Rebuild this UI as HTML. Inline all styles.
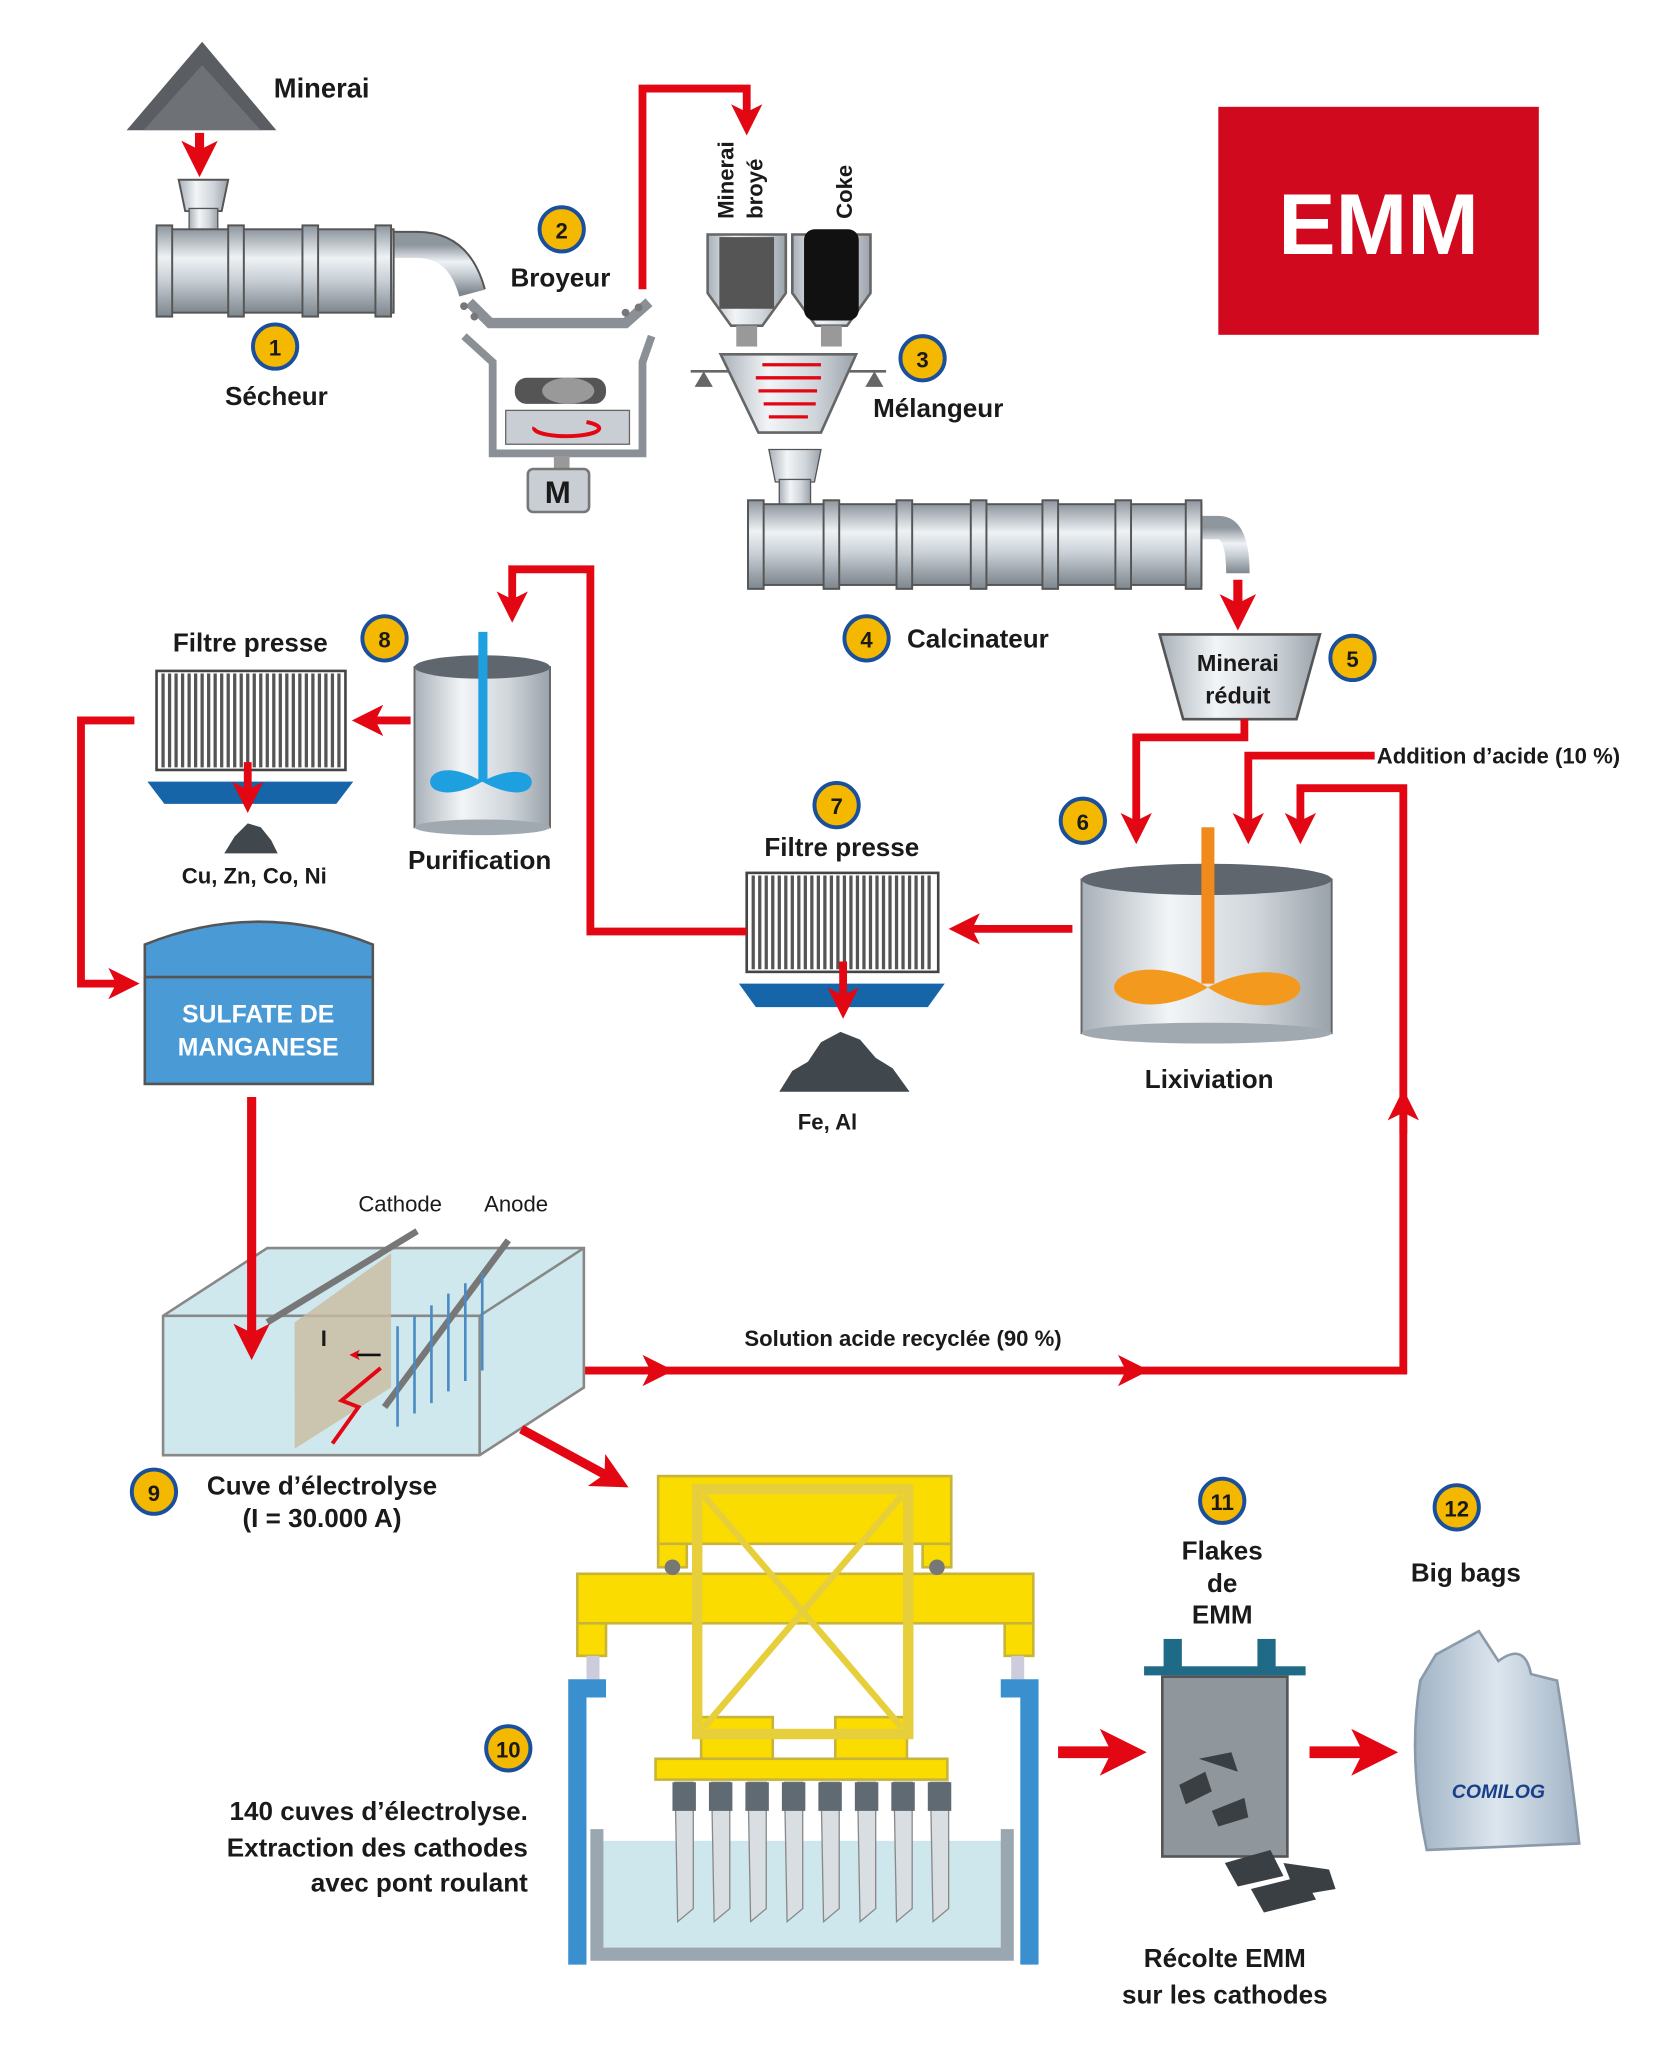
<!DOCTYPE html>
<html><head><meta charset="utf-8"><style>
html,body{margin:0;padding:0;background:#fff;}
svg{display:block;}
text{font-family:"Liberation Sans",sans-serif;font-weight:bold;fill:#1a1a1a;}
.n{font-size:17px;text-anchor:middle;}
.c{font-weight:normal;}
</style></head><body>
<svg width="1668" height="2048" viewBox="0 0 1280 1572" xmlns="http://www.w3.org/2000/svg">
<defs>
<linearGradient id="cyl" x1="0" y1="0" x2="0" y2="1">
<stop offset="0" stop-color="#8e969e"/><stop offset="0.35" stop-color="#eef2f5"/><stop offset="0.6" stop-color="#c9d0d6"/><stop offset="1" stop-color="#7e868e"/></linearGradient>
<linearGradient id="tank" x1="0" y1="0" x2="1" y2="0">
<stop offset="0" stop-color="#a8b0b8"/><stop offset="0.35" stop-color="#f2f5f7"/><stop offset="0.7" stop-color="#cfd5da"/><stop offset="1" stop-color="#9aa2aa"/></linearGradient>
<linearGradient id="bag" x1="0" y1="0" x2="1" y2="0">
<stop offset="0" stop-color="#9fb2c4"/><stop offset="0.5" stop-color="#dde6ee"/><stop offset="1" stop-color="#9fb2c4"/></linearGradient>
<marker id="ah" markerWidth="4" markerHeight="4" refX="2" refY="2" orient="auto" markerUnits="strokeWidth"><path d="M0,0 L4,2 L0,4 L1,2 z" fill="#e30613"/></marker>
</defs>

<!-- EMM -->
<rect x="935" y="82" width="246" height="175" fill="#d0091f"/>
<text x="1058" y="195" font-size="66" text-anchor="middle" style="fill:#fff">EMM</text>

<!-- Minerai -->
<polygon points="97,100 155,32 212,100" fill="#5a5e62"/>
<polygon points="110,100 155,50 200,100" fill="#7b8085" opacity=".6"/>
<text x="210" y="75" font-size="21">Minerai</text>
<path d="M153,102 V122" stroke="#e30613" stroke-width="7" fill="none" marker-end="url(#ah)"/>

<!-- Secheur -->
<polygon points="137,138 175,138 170,162 142,162" fill="url(#tank)" stroke="#555" stroke-width="1.5"/>
<rect x="145" y="160" width="22" height="18" fill="url(#tank)" stroke="#555"/>
<path d="M298,188 H320 Q352,188 362,225" stroke="url(#cyl)" stroke-width="20" fill="none"/>
<path d="M298,178 H320 Q360,178 372,222" stroke="#555" stroke-width="1.5" fill="none"/>
<rect x="120" y="176" width="182" height="64" fill="url(#cyl)" stroke="#555" stroke-width="1.5"/>
<g fill="url(#cyl)" stroke="#555" stroke-width="1.5">
<rect x="120" y="173" width="12" height="70"/><rect x="175" y="173" width="12" height="70"/><rect x="232" y="173" width="12" height="70"/><rect x="288" y="173" width="12" height="70"/></g>
<circle cx="211" cy="266" r="17" fill="#f5b800" stroke="#1a4f9c" stroke-width="3"/><text x="211" y="273" class="n">1</text>
<text x="212" y="311" font-size="20" text-anchor="middle">Sécheur</text>

<!-- Broyeur -->
<circle cx="431" cy="176" r="17" fill="#f5b800" stroke="#1a4f9c" stroke-width="3"/><text x="431" y="183" class="n">2</text>
<text x="430" y="220" font-size="20" text-anchor="middle">Broyeur</text>
<path d="M360,232 L376,248 H480 L498,232" stroke="#8a9096" stroke-width="8" fill="none"/>
<path d="M356,258 L378,278 V348 H493 V278 L500,258" stroke="#8a9096" stroke-width="6" fill="none"/>
<rect x="388" y="315" width="95" height="26" fill="#c8ced4" stroke="#666"/>
<rect x="395" y="290" width="70" height="20" rx="9" fill="#555"/>
<ellipse cx="436" cy="300" rx="20" ry="10" fill="#999"/>
<path d="M410,328 a25,6 0 1 0 40,-4" stroke="#e30613" stroke-width="3" fill="none"/>
<rect x="425" y="350" width="12" height="12" fill="#999"/>
<rect x="405" y="360" width="47" height="33" rx="4" fill="#c8ced4" stroke="#777" stroke-width="2"/>
<text x="428" y="386" font-size="24" text-anchor="middle">M</text>
<g fill="#777"><circle cx="356" cy="235" r="3"/><circle cx="364" cy="243" r="3"/><circle cx="480" cy="240" r="3"/><circle cx="490" cy="236" r="3"/></g>
<path d="M493,222 V68 H573 V92" stroke="#e30613" stroke-width="6" fill="none" marker-end="url(#ah)"/>

<!-- hoppers -->
<polygon points="543,180 603,180 603,225 585,250 561,250 543,225" fill="url(#tank)" stroke="#666" stroke-width="2"/>
<rect x="552" y="182" width="42" height="55" fill="#555"/>
<polygon points="608,180 668,180 668,225 650,250 626,250 608,225" fill="url(#tank)" stroke="#666" stroke-width="2"/>
<rect x="617" y="176" width="42" height="70" rx="8" fill="#111"/>
<text transform="translate(563,168) rotate(-90)" font-size="17">Minerai</text>
<text transform="translate(585,168) rotate(-90)" font-size="17">broyé</text>
<text transform="translate(654,168) rotate(-90)" font-size="17">Coke</text>
<rect x="565" y="250" width="16" height="16" fill="#999"/><rect x="630" y="250" width="16" height="16" fill="#999"/>
<!-- mixer -->
<line x1="530" y1="285" x2="680" y2="285" stroke="#666" stroke-width="2"/>
<polygon points="533,297 540,285 547,297" fill="#666"/><polygon points="664,297 671,285 678,297" fill="#666"/>
<polygon points="553,272 657,272 630,332 582,332" fill="url(#tank)" stroke="#666" stroke-width="2"/>
<path d="M585,280 h45 M580,290 h50 M582,300 h45 M586,310 h40 M590,320 h30" stroke="#e30613" stroke-width="2.5" fill="none"/>
<circle cx="708" cy="275" r="17" fill="#f5b800" stroke="#1a4f9c" stroke-width="3"/><text x="708" y="282" class="n">3</text>
<text x="720" y="320" font-size="20" text-anchor="middle">Mélangeur</text>

<!-- Calcinateur -->
<polygon points="590,345 630,345 625,370 595,370" fill="url(#tank)" stroke="#555"/>
<rect x="598" y="368" width="24" height="20" fill="url(#tank)" stroke="#555"/>
<path d="M920,405 H935 Q950,405 950,440" stroke="url(#cyl)" stroke-width="18" fill="none"/>
<rect x="574" y="387" width="348" height="62" fill="url(#cyl)" stroke="#555" stroke-width="1.5"/>
<g fill="url(#cyl)" stroke="#555" stroke-width="1.5">
<rect x="574" y="384" width="12" height="68"/><rect x="632" y="384" width="12" height="68"/><rect x="688" y="384" width="12" height="68"/><rect x="745" y="384" width="12" height="68"/><rect x="800" y="384" width="12" height="68"/><rect x="856" y="384" width="12" height="68"/><rect x="910" y="384" width="12" height="68"/></g>
<circle cx="665" cy="490" r="17" fill="#f5b800" stroke="#1a4f9c" stroke-width="3"/><text x="665" y="497" class="n">4</text>
<text x="696" y="497" font-size="20">Calcinateur</text>
<path d="M950,445 V470" stroke="#e30613" stroke-width="7" fill="none" marker-end="url(#ah)"/>

<!-- Minerai reduit -->
<polygon points="890,487 1013,487 995,552 908,552" fill="url(#tank)" stroke="#555" stroke-width="2"/>
<text x="950" y="515" font-size="18" text-anchor="middle">Minerai</text>
<text x="950" y="540" font-size="18" text-anchor="middle">réduit</text>
<circle cx="1038" cy="505" r="17" fill="#f5b800" stroke="#1a4f9c" stroke-width="3"/><text x="1038" y="512" class="n">5</text>

<!-- lines to lixiviation -->
<path d="M955,552 V566 H872 V636" stroke="#e30613" stroke-width="6" fill="none" marker-end="url(#ah)"/>
<path d="M1055,580 H958 V636" stroke="#e30613" stroke-width="6" fill="none" marker-end="url(#ah)"/>
<path d="M427,1052 H1077 V605 H998 V636" stroke="#e30613" stroke-width="6" fill="none" marker-end="url(#ah)"/>
<path d="M1077,870 V848" stroke="#e30613" stroke-width="6" fill="none" marker-end="url(#ah)"/>
<path d="M495,1052 H505" stroke="#e30613" stroke-width="6" fill="none" marker-end="url(#ah)"/>
<path d="M860,1052 H870" stroke="#e30613" stroke-width="6" fill="none" marker-end="url(#ah)"/>
<text x="1150" y="586" font-size="17" text-anchor="middle">Addition d’acide (10 %)</text>
<text x="693" y="1033" font-size="17" text-anchor="middle">Solution acide recyclée (90 %)</text>
<circle cx="831" cy="630" r="17" fill="#f5b800" stroke="#1a4f9c" stroke-width="3"/><text x="831" y="637" class="n">6</text>

<!-- Lixiviation -->
<rect x="830" y="675" width="192" height="118" fill="url(#tank)" stroke="#666" stroke-width="1.5"/>
<ellipse cx="926" cy="793" rx="96" ry="8" fill="#a0a8b0"/>
<ellipse cx="926" cy="675" rx="96" ry="12" fill="#5f666d"/>
<rect x="922" y="635" width="10" height="120" fill="#f08a1c"/>
<path d="M927,758 C890,735 855,745 855,758 C855,770 890,780 927,758 C960,740 998,745 998,758 C998,772 960,780 927,758z" fill="#f39a1e"/>
<text x="928" y="835" font-size="20" text-anchor="middle">Lixiviation</text>
<path d="M823,713 H740" stroke="#e30613" stroke-width="6" fill="none" marker-end="url(#ah)"/>

<!-- Filtre 7 -->
<circle cx="642" cy="618" r="17" fill="#f5b800" stroke="#1a4f9c" stroke-width="3"/><text x="642" y="625" class="n">7</text>
<text x="646" y="657" font-size="20" text-anchor="middle">Filtre presse</text>
<rect x="573" y="670" width="147" height="76" fill="#fff" stroke="#444" stroke-width="2"/>
<path d="M578,672 V744 M583,672 V744 M588,672 V744 M593,672 V744 M598,672 V744 M603,672 V744 M608,672 V744 M613,672 V744 M618,672 V744 M623,672 V744 M628,672 V744 M633,672 V744 M638,672 V744 M643,672 V744 M648,672 V744 M653,672 V744 M658,672 V744 M663,672 V744 M668,672 V744 M673,672 V744 M678,672 V744 M683,672 V744 M688,672 V744 M693,672 V744 M698,672 V744 M703,672 V744 M708,672 V744 M713,672 V744" stroke="#555" stroke-width="2.5"/>
<polygon points="567,755 725,755 712,773 580,773" fill="#1565a8"/>
<path d="M647,738 V770" stroke="#e30613" stroke-width="6" fill="none" marker-end="url(#ah)"/>
<path d="M598,838 L608,822 L620,815 L630,800 L645,792 L660,798 L672,812 L685,820 L698,838z" fill="#40474d"/>
<text x="635" y="867" font-size="17" text-anchor="middle">Fe, Al</text>
<path d="M573,715 H453 V437 H393 V466" stroke="#e30613" stroke-width="6" fill="none" marker-end="url(#ah)"/>

<!-- Purification -->
<rect x="318" y="512" width="104" height="123" fill="url(#tank)" stroke="#666" stroke-width="1.5"/>
<ellipse cx="370" cy="635" rx="52" ry="6" fill="#a0a8b0"/>
<ellipse cx="370" cy="512" rx="52" ry="9" fill="#5f666d"/>
<rect x="367" y="485" width="7" height="115" fill="#1e9fe0"/>
<path d="M370,600 C345,585 330,592 330,600 C330,610 350,612 370,600 C392,588 408,592 408,600 C408,610 392,612 370,600z" fill="#1e9fe0"/>
<text x="368" y="667" font-size="20" text-anchor="middle">Purification</text>
<path d="M315,553 H282" stroke="#e30613" stroke-width="6" fill="none" marker-end="url(#ah)"/>

<!-- Filtre 8 -->
<circle cx="295" cy="490" r="17" fill="#f5b800" stroke="#1a4f9c" stroke-width="3"/><text x="295" y="497" class="n">8</text>
<text x="192" y="500" font-size="20" text-anchor="middle">Filtre presse</text>
<rect x="120" y="515" width="145" height="76" fill="#fff" stroke="#444" stroke-width="2"/>
<path d="M125,517 V589 M130,517 V589 M135,517 V589 M140,517 V589 M145,517 V589 M150,517 V589 M155,517 V589 M160,517 V589 M165,517 V589 M170,517 V589 M175,517 V589 M180,517 V589 M185,517 V589 M190,517 V589 M195,517 V589 M200,517 V589 M205,517 V589 M210,517 V589 M215,517 V589 M220,517 V589 M225,517 V589 M230,517 V589 M235,517 V589 M240,517 V589 M245,517 V589 M250,517 V589 M255,517 V589 M260,517 V589" stroke="#555" stroke-width="2.5"/>
<polygon points="113,600 271,600 258,617 126,617" fill="#1565a8"/>
<path d="M190,585 V612" stroke="#e30613" stroke-width="6" fill="none" marker-end="url(#ah)"/>
<path d="M172,655 L180,642 L190,632 L200,635 L208,645 L213,655z" fill="#40474d"/>
<text x="195" y="678" font-size="17" text-anchor="middle">Cu, Zn, Co, Ni</text>
<path d="M103,553 H62 V755 H95" stroke="#e30613" stroke-width="6" fill="none" marker-end="url(#ah)"/>

<!-- Sulfate -->
<path d="M111,725 Q198,690 286,725 V832 H111z" fill="#4a9ad6" stroke="#555" stroke-width="2"/>
<line x1="111" y1="750" x2="286" y2="750" stroke="#555" stroke-width="2"/>
<text x="198" y="785" font-size="19" text-anchor="middle" style="fill:#fff">SULFATE DE</text>
<text x="198" y="810" font-size="19" text-anchor="middle" style="fill:#fff">MANGANESE</text>

<!-- Cuve electrolyse -->
<polygon points="125,1010 205,958 448,958 448,1065 368,1117 125,1117" fill="#cfe8ee" stroke="#888" stroke-width="2"/>
<polyline points="125,1010 368,1010 448,958" fill="none" stroke="#888" stroke-width="2"/>
<line x1="368" y1="1010" x2="368" y2="1117" stroke="#888" stroke-width="2"/>
<polygon points="226,1015 300,962 300,1065 226,1112" fill="#c9bca0" opacity=".8"/>
<path d="M205,1015 L320,945 M295,1080 L390,952" stroke="#777" stroke-width="5"/>
<g stroke="#4a8bc2" stroke-width="2"><line x1="305" y1="1018" x2="305" y2="1095"/><line x1="318" y1="1010" x2="318" y2="1085"/><line x1="331" y1="1002" x2="331" y2="1077"/><line x1="344" y1="993" x2="344" y2="1068"/><line x1="357" y1="985" x2="357" y2="1060"/><line x1="370" y1="977" x2="370" y2="1052"/></g>
<path d="M193,842 V1030" stroke="#e30613" stroke-width="7" fill="none" marker-end="url(#ah)"/>
<text x="307" y="930" font-size="17" text-anchor="middle" class="c">Cathode</text>
<text x="396" y="930" font-size="17" text-anchor="middle" class="c">Anode</text>
<text x="246" y="1033" font-size="17">I</text>
<path d="M292,1040 H272" stroke="#111" stroke-width="2" marker-end="url(#ah)"/>
<path d="M292,1050 L262,1075 L275,1080 L255,1108" stroke="#e30613" stroke-width="3" fill="none"/>
<circle cx="118" cy="1145" r="17" fill="#f5b800" stroke="#1a4f9c" stroke-width="3"/><text x="118" y="1152" class="n">9</text>
<text x="247" y="1147" font-size="20" text-anchor="middle">Cuve d’électrolyse</text>
<text x="247" y="1172" font-size="20" text-anchor="middle">(I = 30.000 A)</text>
<path d="M400,1097 L470,1135" stroke="#e30613" stroke-width="7" fill="none" marker-end="url(#ah)"/>

<!-- Crane -->
<g fill="#fbdc00" stroke="#c8b43a" stroke-width="2">
<rect x="505" y="1133" width="225" height="52"/>
<rect x="505" y="1185" width="22" height="18"/><rect x="708" y="1185" width="22" height="18"/>
<rect x="443" y="1208" width="350" height="38"/>
<rect x="443" y="1246" width="22" height="25"/><rect x="771" y="1246" width="22" height="25"/>
<rect x="538" y="1318" width="55" height="35"/><rect x="641" y="1318" width="55" height="35"/>
<rect x="503" y="1350" width="224" height="16"/>
</g>
<rect x="535" y="1143" width="162" height="188" fill="none" stroke="#e6cf3a" stroke-width="8"/>
<path d="M540,1148 L692,1326 M692,1148 L540,1326" stroke="#e6cf3a" stroke-width="5"/>
<circle cx="516" cy="1203" r="6" fill="#777"/><circle cx="719" cy="1203" r="6" fill="#777"/>
<rect x="450" y="1271" width="10" height="18" fill="#ccd"/><rect x="776" y="1271" width="10" height="18" fill="#ccd"/>
<rect x="458" y="1413" width="315" height="90" fill="#cde7ec"/>
<path d="M458,1404 V1500 H773 V1404" stroke="#9aa6b0" stroke-width="10" fill="none"/>
<g fill="#d9dee3" stroke="#888" stroke-width="1">
<polygon points="518,1368 532,1368 532,1465 520,1475"/><polygon points="546,1368 560,1368 560,1465 548,1475"/><polygon points="574,1368 588,1368 588,1465 576,1475"/><polygon points="602,1368 616,1368 616,1465 604,1475"/><polygon points="630,1368 644,1368 644,1465 632,1475"/><polygon points="658,1368 672,1368 672,1465 660,1475"/><polygon points="686,1368 700,1368 700,1465 688,1475"/><polygon points="714,1368 728,1368 728,1465 716,1475"/></g>
<g fill="#5f6a72"><rect x="516" y="1368" width="18" height="22"/><rect x="544" y="1368" width="18" height="22"/><rect x="572" y="1368" width="18" height="22"/><rect x="600" y="1368" width="18" height="22"/><rect x="628" y="1368" width="18" height="22"/><rect x="656" y="1368" width="18" height="22"/><rect x="684" y="1368" width="18" height="22"/><rect x="712" y="1368" width="18" height="22"/></g>
<path d="M443,1508 V1296 H465" stroke="#3a8fcf" stroke-width="14" fill="none"/>
<path d="M790,1508 V1296 H768" stroke="#3a8fcf" stroke-width="14" fill="none"/>
<circle cx="390" cy="1342" r="17" fill="#f5b800" stroke="#1a4f9c" stroke-width="3"/><text x="390" y="1349" class="n">10</text>
<text x="405" y="1397" font-size="20" text-anchor="end">140 cuves d’électrolyse.</text>
<text x="405" y="1425" font-size="20" text-anchor="end">Extraction des cathodes</text>
<text x="405" y="1452" font-size="20" text-anchor="end">avec pont roulant</text>
<path d="M812,1345 H862" stroke="#e30613" stroke-width="9" fill="none" marker-end="url(#ah)"/>
<path d="M1005,1345 H1055" stroke="#e30613" stroke-width="9" fill="none" marker-end="url(#ah)"/>

<!-- Flakes -->
<circle cx="938" cy="1152" r="17" fill="#f5b800" stroke="#1a4f9c" stroke-width="3"/><text x="938" y="1159" class="n">11</text>
<text x="938" y="1197" font-size="20" text-anchor="middle">Flakes</text>
<text x="938" y="1222" font-size="20" text-anchor="middle">de</text>
<text x="938" y="1246" font-size="20" text-anchor="middle">EMM</text>
<rect x="878" y="1279" width="124" height="7" fill="#1f6a86"/>
<rect x="893" y="1258" width="14" height="22" fill="#1f6a86"/><rect x="965" y="1258" width="14" height="22" fill="#1f6a86"/>
<rect x="892" y="1287" width="96" height="138" fill="#8f969c" stroke="#555" stroke-width="2"/>
<g fill="#3a3f44"><polygon points="905,1370 925,1360 930,1375 910,1385"/><polygon points="930,1390 955,1380 958,1395 935,1402"/><polygon points="940,1430 975,1420 985,1440 950,1448"/><polygon points="960,1450 1000,1440 1010,1458 970,1468"/><polygon points="985,1430 1020,1435 1025,1450 995,1455"/><polygon points="920,1350 945,1345 950,1360"/></g>
<text x="940" y="1510" font-size="20" text-anchor="middle">Récolte EMM</text>
<text x="940" y="1538" font-size="20" text-anchor="middle">sur les cathodes</text>

<!-- Big bag -->
<circle cx="1118" cy="1157" r="17" fill="#f5b800" stroke="#1a4f9c" stroke-width="3"/><text x="1118" y="1164" class="n">12</text>
<text x="1125" y="1214" font-size="20" text-anchor="middle">Big bags</text>
<path d="M1102,1270 L1135,1252 L1150,1275 Q1170,1260 1175,1285 L1195,1290 Q1205,1350 1212,1415 L1095,1420 Q1080,1350 1090,1290z" fill="url(#bag)" stroke="#8a9aa8" stroke-width="2"/>
<text x="1150" y="1380" font-size="15" text-anchor="middle" style="fill:#1a3f8a;font-style:italic">COMILOG</text>
</svg>
</body></html>
